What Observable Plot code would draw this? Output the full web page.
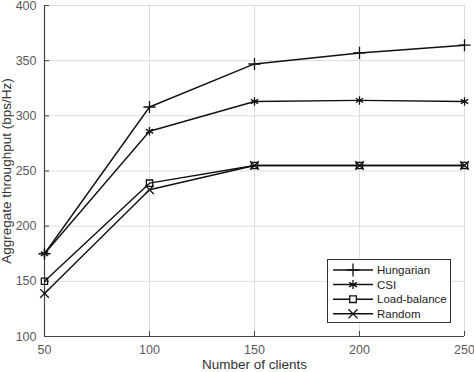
<!DOCTYPE html>
<html>
<head>
<meta charset="utf-8">
<script src="https://cdn.jsdelivr.net/npm/d3@7"></script>
<script src="https://cdn.jsdelivr.net/npm/@observablehq/plot@0.6"></script>
<style>
  html, body { margin: 0; padding: 0; background: #fff; }
  #wrap { position: relative; width: 474px; height: 372px; overflow: hidden; }
  #legend { position: absolute; left: 327px; top: 259px; }
  svg text { font-family: "Liberation Sans", Arial, sans-serif; }
</style>
</head>
<body>
<div id="wrap"></div>
<script>
const clients = [50, 100, 150, 200, 250];
const hungarian = [175, 308, 347, 357, 364];
const csi = [175, 286, 313, 314, 313];
const loadBalance = [150, 239, 255, 255, 255];
const random = [139, 233, 255, 255, 255];
const seriesNames = ["Hungarian", "CSI", "Load-balance", "Random"];
const seriesSymbols = ["plus", "asterisk", "square2", "times"];
const xTicks = [50, 100, 150, 200, 250];
const yTicks = [100, 150, 200, 250, 300, 350, 400];
const xLabel = "Number of clients";
const yLabel = "Aggregate throughput (bps/Hz)";

const seriesValues = [hungarian, csi, loadBalance, random];
const rows = seriesNames.flatMap((name, s) =>
  clients.map((c, i) => ({clients: c, value: seriesValues[s][i], series: name}))
);

const font = "Liberation Sans, Arial, sans-serif";
const chart = Plot.plot({
  width: 474,
  height: 372,
  marginLeft: 44,
  marginRight: 10,
  marginTop: 5,
  marginBottom: 36,
  style: {fontFamily: font, fontSize: "12px", background: "white", overflow: "visible"},
  x: {domain: [50, 250]},
  y: {domain: [100, 400]},
  symbol: {domain: seriesNames, range: seriesSymbols},
  marks: [
    Plot.gridX(xTicks, {stroke: "#dcdcdc", strokeOpacity: 1}),
    Plot.gridY(yTicks, {stroke: "#dcdcdc", strokeOpacity: 1}),
    Plot.axisX(xTicks, {tickSize: -5, tickPadding: 14, stroke: "#444", color: "#5a5a5a",
      label: null, fontSize: 12.5}),
    Plot.axisY(yTicks, {tickSize: -5, tickPadding: 13, stroke: "#444", color: "#5a5a5a",
      label: null, fontSize: 12.5}),
    Plot.axisX([], {tickSize: 0, label: xLabel, labelAnchor: "center", labelOffset: 32,
      labelArrow: "none", fontSize: 13.5, color: "#333"}),
    Plot.axisY([], {tickSize: 0, label: yLabel, labelAnchor: "center", labelOffset: 43,
      labelArrow: "none", fontSize: 13.5, color: "#333"}),
    Plot.ruleY([100], {stroke: "#444", strokeWidth: 1.2}),
    Plot.ruleX([50], {stroke: "#444", strokeWidth: 1.2}),
    Plot.line(rows, {x: "clients", y: "value", z: "series", stroke: "#111", strokeWidth: 1.4}),
    Plot.dot(rows, {x: "clients", y: "value", symbol: "series", stroke: "#111", strokeWidth: 1.3, r: 4})
  ]
});
document.getElementById("wrap").appendChild(chart);

// Legend
const lw = 124, lh = 64;
const lg = d3.select("#wrap").append("svg").attr("id", "legend")
  .attr("width", lw).attr("height", lh);
lg.append("rect").attr("x", 0.5).attr("y", 0.5).attr("width", lw - 1).attr("height", lh - 1)
  .attr("fill", "white").attr("stroke", "#333").attr("stroke-width", 1);
const symMap = {plus: d3.symbolPlus, asterisk: d3.symbolAsterisk, square2: d3.symbolSquare2, times: d3.symbolTimes};
seriesNames.forEach((name, i) => {
  const y = 11 + i * 14.6;
  const g = lg.append("g").attr("transform", `translate(0,${y})`);
  g.append("line").attr("x1", 6).attr("x2", 46).attr("y1", 0).attr("y2", 0)
    .attr("stroke", "#111").attr("stroke-width", 1.5);
  g.append("path").attr("d", d3.symbol(symMap[seriesSymbols[i]], 56)())
    .attr("transform", "translate(26,0)")
    .attr("fill", seriesSymbols[i] === "square2" ? "white" : "none")
    .attr("stroke", "#111").attr("stroke-width", 1.3);
  g.append("text").attr("x", 50).attr("y", 0).attr("dy", "0.35em")
    .attr("font-size", 11.5).attr("fill", "#222").text(name);
});
</script>
</body>
</html>
